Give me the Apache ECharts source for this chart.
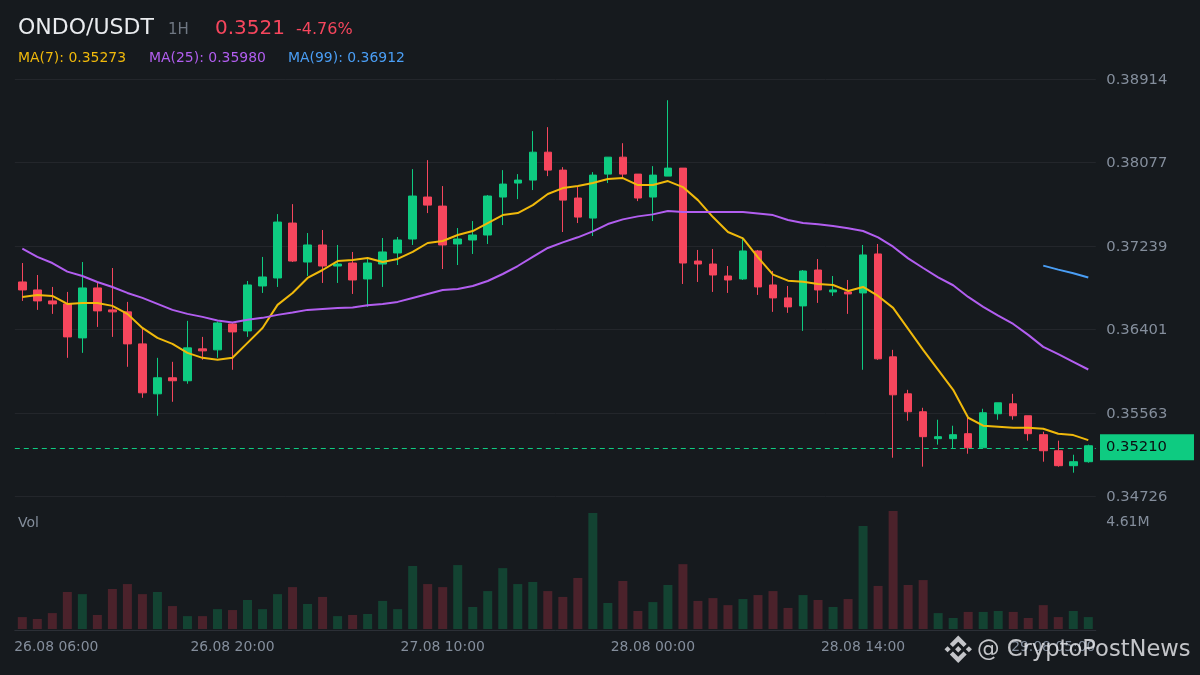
<!DOCTYPE html>
<html>
<head>
<meta charset="utf-8">
<style>html,body{margin:0;padding:0;background:#161a1e}#c{width:1200px;height:675px}</style>
<script src="https://cdn.jsdelivr.net/npm/echarts@6/dist/echarts.min.js"></script>
</head>
<body>
<div id="c"></div>
<script>
const categories = ["26.08 06:00","26.08 07:00","26.08 08:00","26.08 09:00","26.08 10:00","26.08 11:00","26.08 12:00","26.08 13:00","26.08 14:00","26.08 15:00","26.08 16:00","26.08 17:00","26.08 18:00","26.08 19:00","26.08 20:00","26.08 21:00","26.08 22:00","26.08 23:00",
"27.08 00:00","27.08 01:00","27.08 02:00","27.08 03:00","27.08 04:00","27.08 05:00","27.08 06:00","27.08 07:00","27.08 08:00","27.08 09:00","27.08 10:00","27.08 11:00","27.08 12:00","27.08 13:00","27.08 14:00","27.08 15:00","27.08 16:00","27.08 17:00","27.08 18:00","27.08 19:00","27.08 20:00","27.08 21:00","27.08 22:00","27.08 23:00",
"28.08 00:00","28.08 01:00","28.08 02:00","28.08 03:00","28.08 04:00","28.08 05:00","28.08 06:00","28.08 07:00","28.08 08:00","28.08 09:00","28.08 10:00","28.08 11:00","28.08 12:00","28.08 13:00","28.08 14:00","28.08 15:00","28.08 16:00","28.08 17:00","28.08 18:00","28.08 19:00","28.08 20:00","28.08 21:00","28.08 22:00","28.08 23:00",
"29.08 00:00","29.08 01:00","29.08 02:00","29.08 03:00","29.08 04:00","29.08 05:00"];
const shownTicks = ["26.08 06:00","26.08 20:00","27.08 10:00","28.08 00:00","28.08 14:00","29.08 05:00"];
const opens = [.36878,.36798,.36688,.36658,.36317,.36818,.36598,.36578,.36257,.35756,.35917,.35887,.36207,.36197,.36457,.36387,.36838,.36918,.37469,.37078,.37249,.37038,.37068,.36908,.37058,.37169,
.37309,.37730,.37639,.37259,.37299,.37349,.37730,.37870,.37900,.38180,.38000,.37720,.37519,.37960,.38130,.37960,.37730,.37940,.38020,.37088,.37058,.36938,
.36908,.37189,.36848,.36718,.36638,.36998,.36778,.36778,.36768,.37159,.36127,.35756,.35576,.35306,.35306,.35356,.35215,.35556,.35656,.35536,.35346,.35185,.35035,.35075];
const closes = [.36798,.36688,.36658,.36327,.36818,.36588,.36578,.36257,.35766,.35917,.35887,.36217,.36187,.36467,.36377,.36848,.36928,.37479,.37088,.37249,.37038,.37058,.36898,.37068,.37179,.37299,
.37740,.37649,.37249,.37309,.37349,.37740,.37860,.37900,.38180,.38000,.37699,.37529,.37950,.38130,.37960,.37720,.37950,.38020,.37068,.37058,.36948,.36898,
.37189,.36828,.36718,.36628,.36988,.36798,.36798,.36758,.37149,.36107,.35746,.35576,.35326,.35326,.35346,.35215,.35566,.35666,.35536,.35356,.35185,.35035,.35075,.35235];
const lows = [.36688,.36598,.36558,.36117,.36167,.36427,.36327,.36027,.35716,.35536,.35676,.35857,.36097,.36117,.35997,.36327,.36768,.36828,.37078,.36938,.36868,.36868,.36758,.36628,.36828,.37048,
.37249,.37569,.37008,.37048,.37159,.37259,.37449,.37709,.37800,.37940,.37379,.37469,.37339,.37870,.37920,.37689,.37489,.37940,.36858,.36878,.36778,.36768,
.36898,.36748,.36578,.36568,.36387,.36668,.36738,.36558,.35997,.36097,.35115,.35486,.35025,.35246,.35205,.35155,.35205,.35496,.35496,.35286,.35075,.35025,.34965,.35065];
const highs = [.37068,.36948,.36828,.36778,.37078,.36868,.37018,.36678,.36407,.36117,.36077,.36488,.36327,.36481,.36464,.36888,.37129,.37559,.37659,.37369,.37399,.37249,.37179,.37109,.37319,.37329,
.38010,.38100,.37840,.37419,.37489,.37750,.38000,.37960,.38391,.38431,.38030,.37830,.37980,.38130,.38270,.37960,.38040,.38701,.38020,.37199,.37209,.37038,
.37329,.37199,.36988,.36838,.36998,.37108,.36938,.36898,.37249,.37259,.36197,.35796,.35616,.35496,.35436,.35516,.35606,.35666,.35756,.35536,.35376,.35286,.35145,.35246];
const ma7 = [.36728,.36748,.36738,.36658,.36668,.36668,.36638,.36558,.36417,.36317,.36257,.36167,.36117,.36097,.36117,.36267,.36417,.36648,.36768,.36918,.36998,.37088,.37098,.37119,.37078,.37109,
.37179,.37269,.37289,.37349,.37389,.37469,.37549,.37569,.37649,.37760,.37820,.37840,.37870,.37910,.37920,.37850,.37850,.37890,.37830,.37699,.37529,.37379,
.37315,.37125,.36952,.36891,.36881,.36858,.36848,.36788,.36828,.36738,.36618,.36407,.36197,.35997,.35796,.35516,.35436,.35426,.35416,.35416,.35406,.35356,.35342,.35292];
const ma25 = [.37212,.37129,.37068,.36982,.36938,.36878,.36828,.36768,.36718,.36658,.36598,.36558,.36528,.36491,.36471,.36498,.36518,.36548,.36571,.36598,.36608,.36618,.36621,.36644,.36658,.36678,
.36718,.36758,.36798,.36808,.36838,.36888,.36958,.37038,.37129,.37219,.37275,.37326,.37386,.37459,.37506,.37536,.37556,.37589,.37579,.37579,.37579,.37579,
.37579,.37566,.37549,.37499,.37469,.37456,.37439,.37416,.37389,.37326,.37232,.37115,.37018,.36925,.36845,.36728,.36628,.36541,.36457,.36347,.36227,.36154,.36077,.36000];
const ma99Tail = [.37042,.37002,.36965,.36922];
const volumes = [.51,.43,.68,1.58,1.49,.60,1.71,1.92,1.49,1.58,.98,.55,.55,.85,.81,1.24,.85,1.49,1.79,1.07,1.37,.55,.60,.64,1.20,.85,
2.69,1.92,1.79,2.73,.94,1.62,2.60,1.92,2.01,1.62,1.37,2.18,4.95,1.11,2.05,.77,1.15,1.88,2.77,1.20,1.32,1.02,1.28,1.45,1.62,.90,1.45,
1.24,.94,1.28,4.40,1.84,5.04,1.88,2.09,.68,.47,.73,.73,.77,.73,.47,1.02,.51,.77,.51];
const priceTicks = [.34726,.35563,.36401,.37239,.38077,.38914];
const volTick = [4.61];
const currentPrice = .3521;

const UP='#0ECB81', DOWN='#F6465D', UP_V='#134332', DOWN_V='#4B222B', AXIS='#848E9C', BG='#161A1E', GRID='#23262B';
const FONT='"DejaVu Sans"';
const ma99 = categories.map((_,i)=> i < categories.length-ma99Tail.length ? null : ma99Tail[i-categories.length+ma99Tail.length]);
const candle = categories.map((_,i)=>[opens[i],closes[i],lows[i],highs[i]]);
const volData = volumes.map((v,i)=>({value:v,itemStyle:{color:closes[i]>=opens[i]?UP_V:DOWN_V}}));
const LOGO_PARTS=[
 [[38.73,53.2],[63.32,28.62],[87.92,53.22],[102.22,38.91],[63.32,0],[24.42,38.9]],
 [[0,63.31],[14.3,49],[28.61,63.31],[14.3,77.61]],
 [[38.73,73.41],[63.32,98],[87.92,73.4],[102.23,87.69],[63.33,126.6],[24.42,87.72]],
 [[98.01,63.31],[112.31,49],[126.62,63.31],[112.31,77.61]],
 [[77.83,63.3],[63.32,48.78],[48.81,63.28],[63.32,77.78]]
];
const txt=(x,y,text,fill,size)=>({type:'text',x,y,silent:true,z:100,style:{text,fill,font:size+'px '+FONT,textVerticalAlign:'middle',textAlign:'left'}});
const line=(name,data,color,extra)=>Object.assign({name,type:'line',data,xAxisIndex:0,yAxisIndex:0,showSymbol:false,symbol:'none',connectNulls:false,lineStyle:{color,width:2},itemStyle:{color},z:4,silent:true},extra||{});

const chart=echarts.init(document.getElementById('c'),null,{renderer:'canvas'});
chart.setOption({
 animation:false,
 backgroundColor:BG,
 textStyle:{fontFamily:FONT},
 grid:[{left:14.8,right:104.2,top:79,height:417.5},{left:14.8,right:104.2,top:509,height:121.3}],
 xAxis:[
  {type:'category',gridIndex:0,data:categories,axisLine:{show:false},axisTick:{show:false},axisLabel:{show:false},splitLine:{show:false}},
  {type:'category',gridIndex:1,data:categories,axisLine:{show:true,onZero:false,lineStyle:{color:'#2B2F36',width:1}},axisTick:{show:false},splitLine:{show:false},
   axisLabel:{color:AXIS,fontSize:13.9,fontFamily:FONT,margin:10.5,hideOverlap:false,showMinLabel:true,showMaxLabel:true,
    interval:(i,v)=>shownTicks.includes(v),
    formatter:(v)=> v===shownTicks[0] ? '{a|'+v+'}' : v===shownTicks[shownTicks.length-1] ? '{b|'+v+'}' : v,
    rich:{a:{padding:[0,0,0,68],fontSize:13.9,color:AXIS,fontFamily:FONT},b:{padding:[0,70,0,0],fontSize:13.9,color:AXIS,fontFamily:FONT}}}}
 ],
 yAxis:[
  {type:'value',gridIndex:0,position:'right',scale:true,min:priceTicks[0],max:priceTicks[5],axisLine:{show:false},axisTick:{show:false,customValues:priceTicks},
   splitLine:{show:true,lineStyle:{color:GRID,width:1}},
   axisLabel:{customValues:priceTicks,color:AXIS,fontSize:14.75,fontFamily:FONT,margin:10.5,formatter:(v)=>'{t|'+v.toFixed(5)+'}',
    rich:{t:{color:AXIS,fontSize:14.75,fontFamily:FONT,padding:[2,0,0,0]}}}},
  {type:'value',gridIndex:1,position:'right',min:-0.055,max:5.125,axisLine:{show:false},axisTick:{show:false,customValues:volTick},splitLine:{show:false},
   axisLabel:{customValues:volTick,color:AXIS,fontSize:14,fontFamily:FONT,margin:10.5,formatter:(v)=>'{t|'+v.toFixed(2)+'M}',
    rich:{t:{color:AXIS,fontSize:14,fontFamily:FONT,padding:[2,0,0,0]}}}}
 ],
 series:[
  {name:'ONDO/USDT',type:'candlestick',xAxisIndex:0,yAxisIndex:0,data:candle,barWidth:8,z:3,silent:true,
   itemStyle:{color:UP,color0:DOWN,borderColor:UP,borderColor0:DOWN,borderWidth:1}},
  line('MA(7)',ma7,'#F0B90B',{
   markLine:{silent:true,symbol:'none',animation:false,precision:6,z:2,
    lineStyle:{color:UP,type:[5,4],width:1,opacity:1},
    label:{show:true,position:'end',distance:4.2,offset:[0,-1],formatter:()=>currentPrice.toFixed(5),color:'#0B0E11',fontSize:14.75,fontFamily:FONT,backgroundColor:UP,padding:[6,27,5,6]},
    data:[{yAxis:currentPrice,lineStyle:{color:UP,type:[5,4],width:1,opacity:1}}]}}),
  line('MA(25)',ma25,'#B25EF0'),
  line('MA(99)',ma99,'#4A9EF5'),
  {name:'Vol',type:'bar',xAxisIndex:1,yAxisIndex:1,data:volData,barWidth:9,silent:true}
 ],
 graphic:[
  txt(18,28,'ONDO/USDT','#EAECEF',22),
  txt(168,30,'1H','#6F7782',15),
  txt(215,28.5,'0.3521',DOWN,20),
  txt(296,29.5,'-4.76%',DOWN,16),
  txt(18,58.5,'MA(7): 0.35273','#F0B90B',13.95),
  txt(149,58.5,'MA(25): 0.35980','#B25EF0',13.95),
  txt(288,58.5,'MA(99): 0.36912','#4A9EF5',13.95),
  txt(18,523,'Vol',AXIS,14),
  ...LOGO_PARTS.map(p=>({type:'polygon',silent:true,z:110,x:944.5,y:635.5,scaleX:0.217,scaleY:0.217,shape:{points:p},style:{fill:'rgba(234,236,239,0.82)'}})),
  {type:'text',x:977,y:650.5,silent:true,z:110,style:{text:'@ CryptoPostNews',fill:'rgba(234,236,239,0.82)',font:'22.6px '+FONT,textVerticalAlign:'middle',textAlign:'left'}}
 ]
});
</script>
</body>
</html>
